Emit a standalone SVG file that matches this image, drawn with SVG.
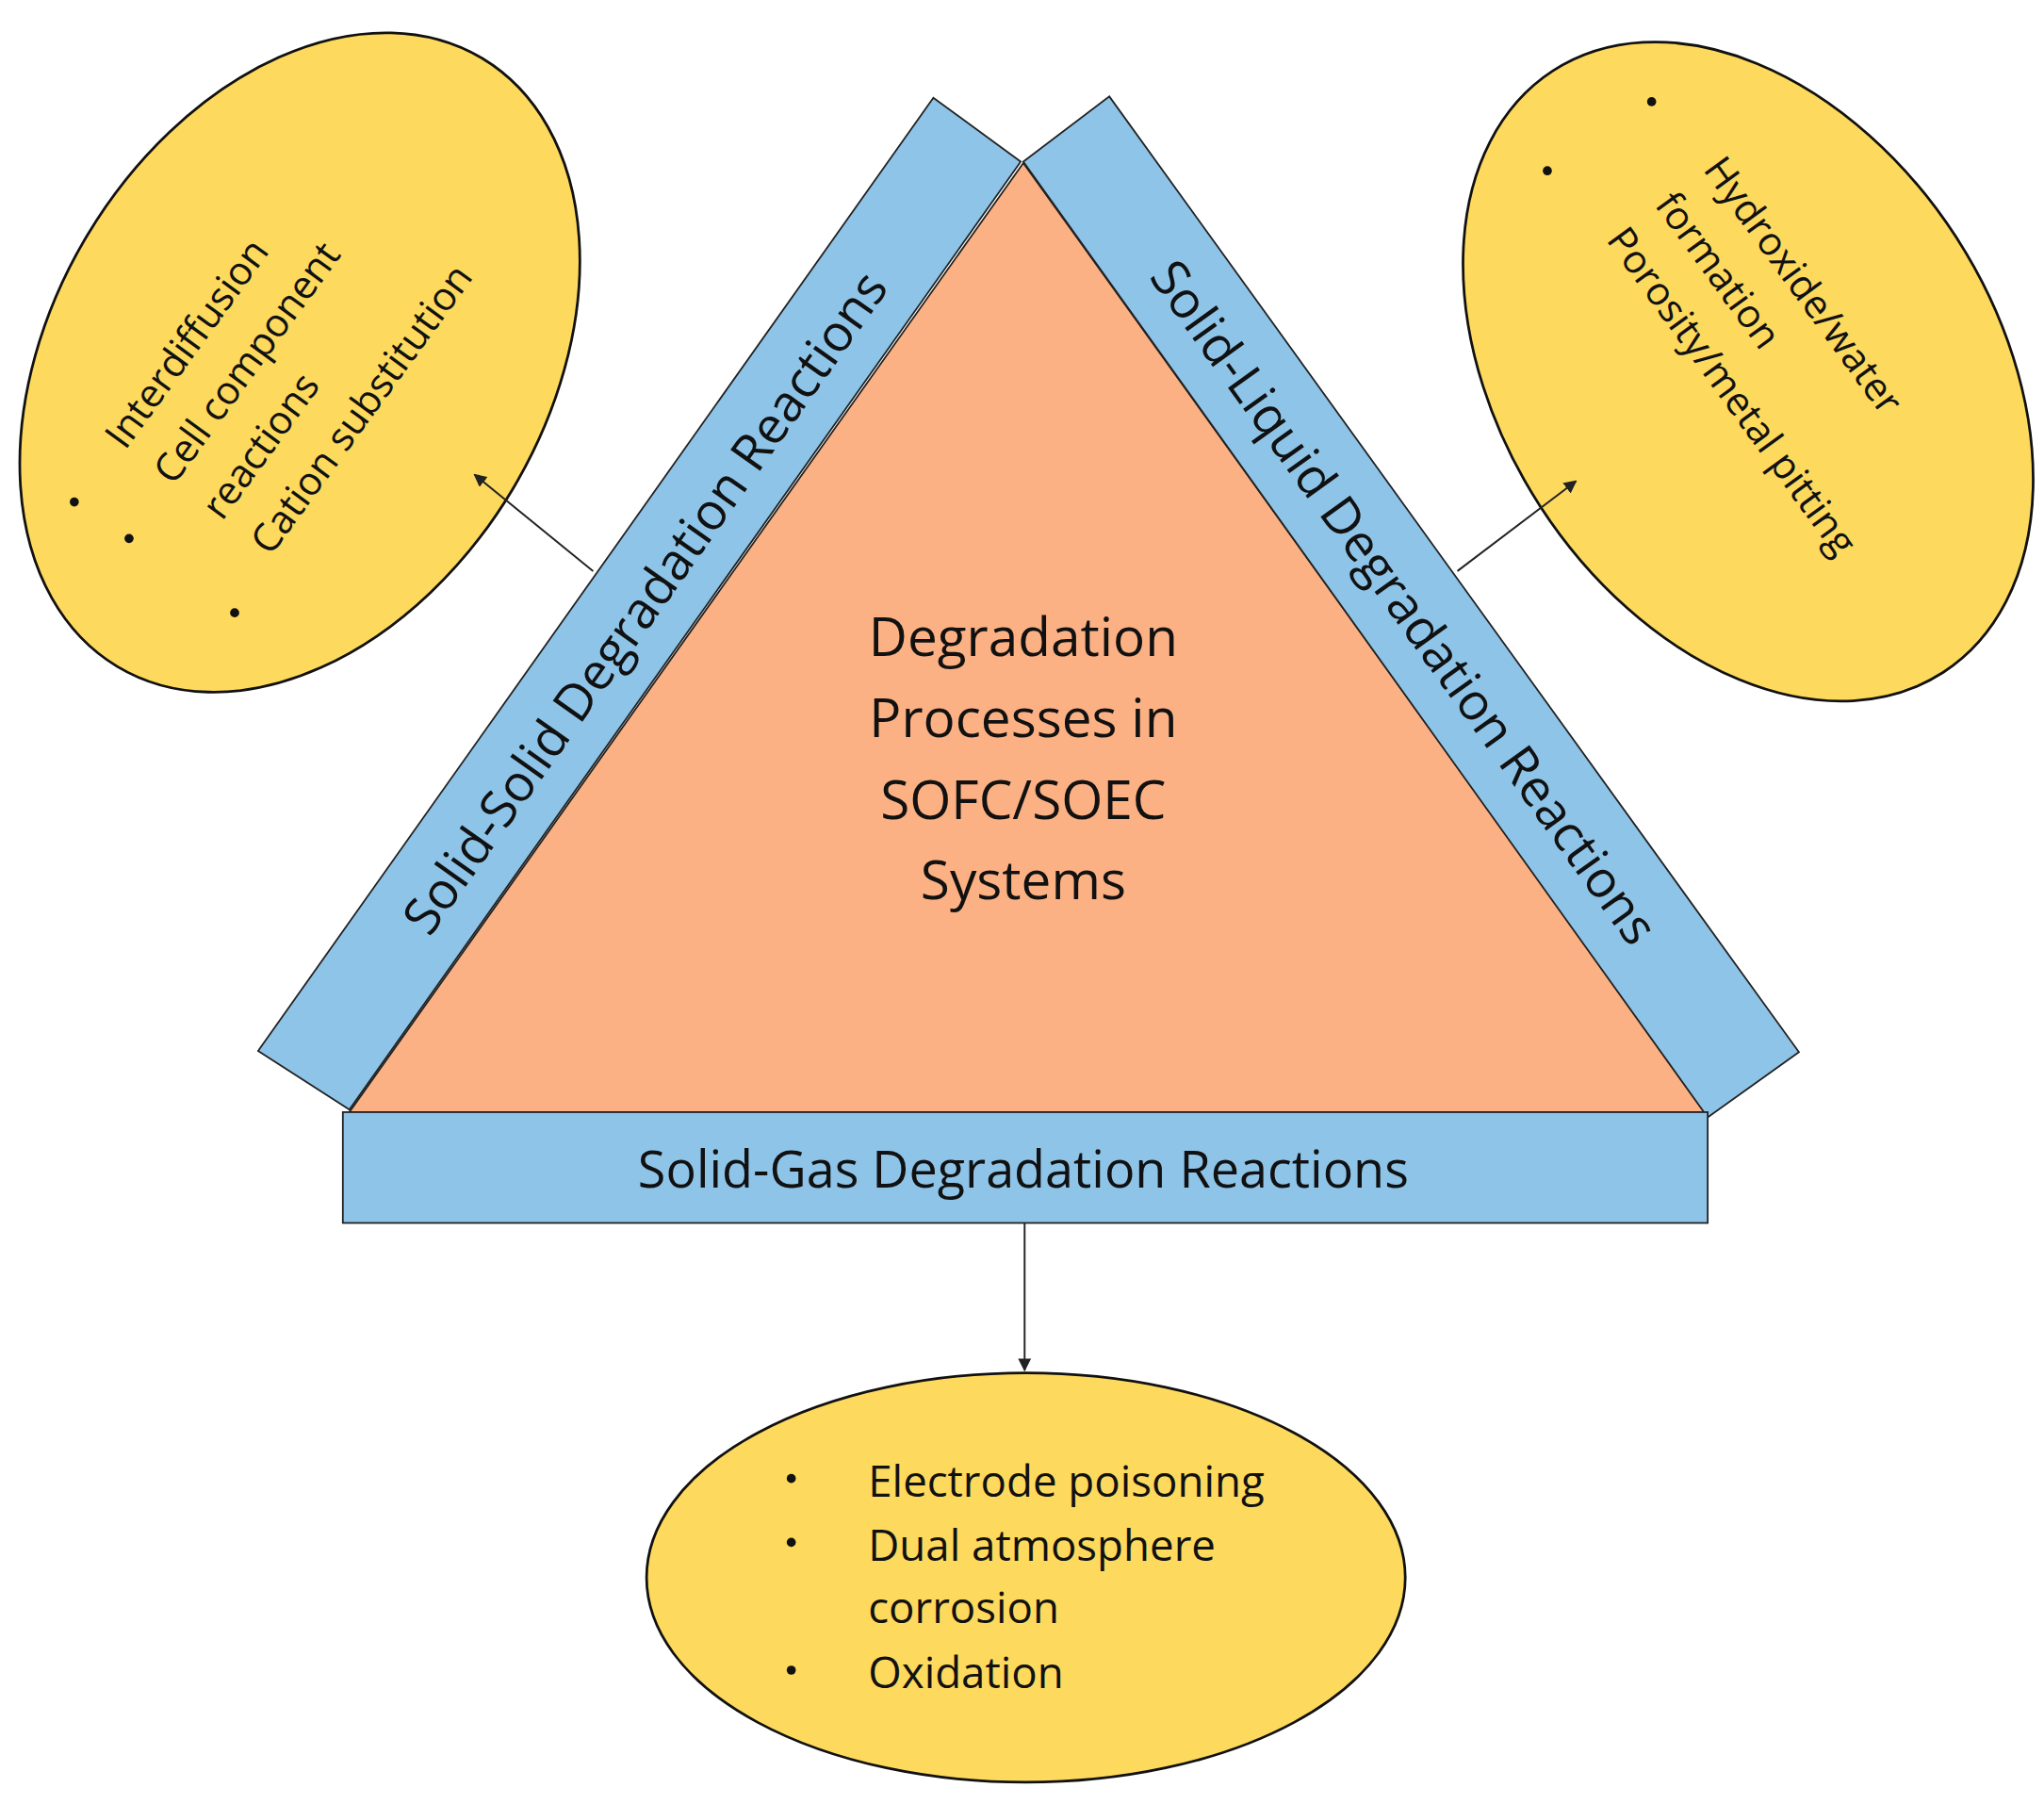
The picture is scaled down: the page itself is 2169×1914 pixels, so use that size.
<svg xmlns="http://www.w3.org/2000/svg" width="2169" height="1914" viewBox="0 0 2169 1914">
<style>
.bar{fill:#8EC4E8;stroke:#222;stroke-width:1.3}
.tri{fill:#FCB184;stroke:#222;stroke-width:1.3}
.ell{fill:#FDD95E;stroke:#111;stroke-width:2}
text{font-family:"Open Sans","Liberation Sans",sans-serif;fill:#111}
.big{font-size:39px}
.mid{font-size:41px}
.sm{font-size:30px}
.bt{font-size:33px}
.con{stroke:#222;stroke-width:1.4;fill:none;marker-end:url(#ah)}
</style>
<defs><marker id="ah" markerWidth="10" markerHeight="10" refX="9" refY="5" orient="auto" markerUnits="userSpaceOnUse"><path d="M0,0 L10,5 L0,10 z" fill="#222"/></marker></defs>
<rect width="2169" height="1914" fill="#fff"/>
<g transform="scale(1.3833)">
<g id="center">
<polygon class="tri" points="785,125 268,853 1308,853"/>
<text class="mid" text-anchor="middle" x="785" y="503">Degradation</text>
<text class="mid" text-anchor="middle" x="785" y="565">Processes in</text>
<text class="mid" text-anchor="middle" x="785" y="628">SOFC/SOEC</text>
<text class="mid" text-anchor="middle" x="785" y="690">Systems</text>
</g>
<g id="solid-solid">
<polygon class="bar" points="198,806 716,75 783,124 268,851"/>
<text class="big" text-anchor="middle" transform="translate(506,470) rotate(-54.7)">Solid-Solid Degradation Reactions</text>
</g>
<g id="solid-liquid">
<polygon class="bar" points="785,124 851,74 1380,807 1310,857"/>
<text class="big" text-anchor="middle" transform="translate(1066,470) rotate(54.3)">Solid-Liquid Degradation Reactions</text>
</g>
<g id="solid-gas">
<rect class="bar" x="263" y="853" width="1047" height="85"/>
<text class="big" text-anchor="middle" x="785" y="911">Solid-Gas Degradation Reactions</text>
</g>
<g id="left-ellipse">
<ellipse class="ell" cx="230" cy="278" rx="190" ry="272" transform="rotate(31 230 278)"/>
<circle cx="57" cy="385" r="3.5" fill="#111"/>
<circle cx="99" cy="413" r="3.5" fill="#111"/>
<circle cx="180" cy="470" r="3.5" fill="#111"/>
<g transform="translate(96,346) rotate(-54)" class="sm">
<text x="0" y="0">Interdiffusion</text>
<text x="0" y="46">Cell component</text>
<text x="0" y="92">reactions</text>
<text x="0" y="138">Cation substitution</text>
</g>
</g>
<g id="right-ellipse">
<ellipse class="ell" cx="1341" cy="285" rx="190" ry="275" transform="rotate(-33 1341 285)"/>
<circle cx="1267" cy="78" r="3.5" fill="#111"/>
<circle cx="1187" cy="131" r="3.5" fill="#111"/>
<g transform="translate(1306,130) rotate(54)" class="sm">
<text x="0" y="0">Hydroxide/water</text>
<text x="0" y="46">formation</text>
<text x="0" y="92">Porosity/metal pitting</text>
</g>
</g>
<g id="bottom-ellipse">
<ellipse class="ell" cx="787" cy="1210" rx="291" ry="157"/>
<g class="bt">
<circle cx="607" cy="1134" r="3.5" fill="#111"/>
<circle cx="607" cy="1183" r="3.5" fill="#111"/>
<circle cx="607" cy="1281" r="3.5" fill="#111"/>
<text x="666" y="1148">Electrode poisoning</text>
<text x="666" y="1197">Dual atmosphere</text>
<text x="666" y="1245">corrosion</text>
<text x="666" y="1295">Oxidation</text>
</g>
</g>
<g id="connectors">
<line class="con" x1="455" y1="438" x2="364" y2="364"/>
<line class="con" x1="1118" y1="438" x2="1209" y2="369"/>
<line class="con" x1="786" y1="938" x2="786" y2="1051"/>
</g>
</g>
</svg>
